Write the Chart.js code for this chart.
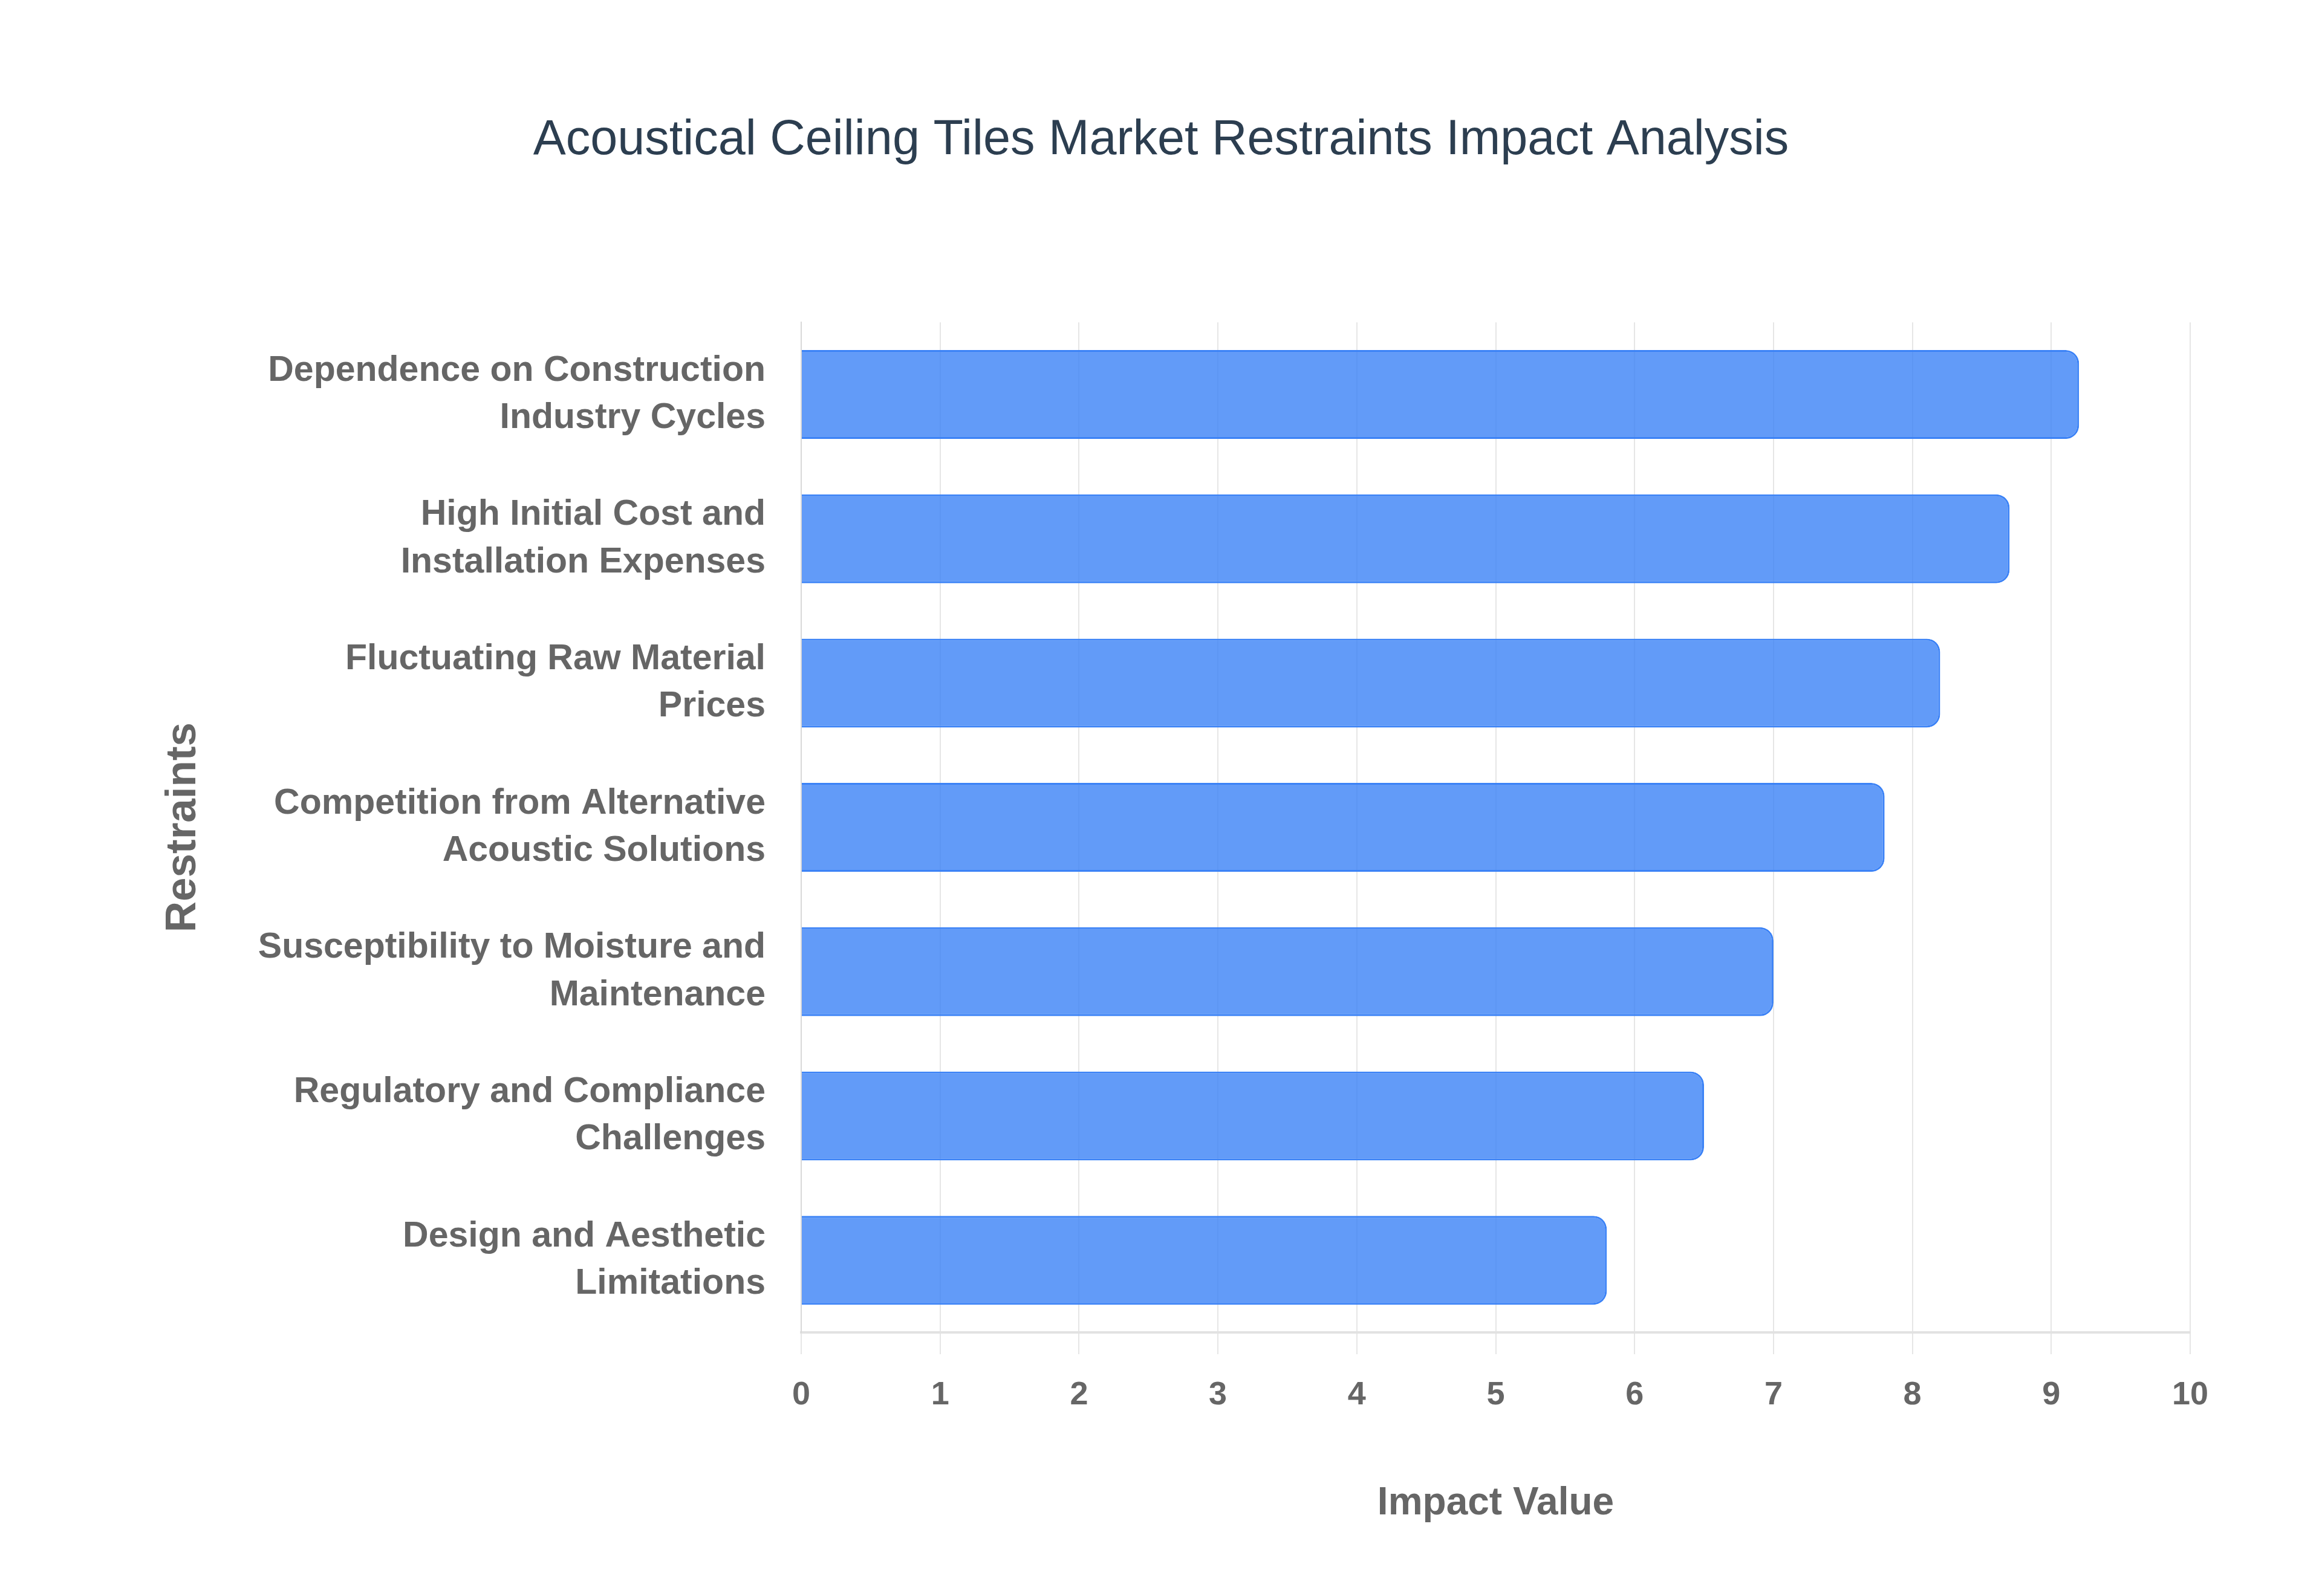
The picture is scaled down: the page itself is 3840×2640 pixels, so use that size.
<!DOCTYPE html>
<html>
<head>
<meta charset="utf-8">
<title>Acoustical Ceiling Tiles Market Restraints Impact Analysis</title>
<script src="https://cdn.jsdelivr.net/npm/chart.js@4.4.1/dist/chart.umd.min.js"></script>
<style>
  html, body { margin: 0; padding: 0; background: #ffffff; }
  #wrap { width: 3840px; height: 2640px; position: relative; }
</style>
</head>
<body>
<div id="wrap"><canvas id="restraintsChart"></canvas></div>
<script>
// Restraint names (wrapped onto two lines like the original)
const RESTRAINTS = [
  ['Dependence on Construction', 'Industry Cycles'],
  ['High Initial Cost and', 'Installation Expenses'],
  ['Fluctuating Raw Material', 'Prices'],
  ['Competition from Alternative', 'Acoustic Solutions'],
  ['Susceptibility to Moisture and', 'Maintenance'],
  ['Regulatory and Compliance', 'Challenges'],
  ['Design and Aesthetic', 'Limitations']
];

// Impact score for each restraint
const IMPACT_VALUES = [9.2, 8.7, 8.2, 7.8, 7.0, 6.5, 5.8];

// Impact axis range
const X_MIN = 0;
const X_MAX = 10;
const X_STEP = 1;

const LABEL_FONT = "'Liberation Sans', Arial, Helvetica, sans-serif";

/**
 * Build the horizontal bar chart
 */
function buildChart() {
  const ctx = document.getElementById('restraintsChart').getContext('2d');

  new Chart(ctx, {
    type: 'bar',
    data: {
      labels: RESTRAINTS,
      datasets: [{
        label: 'Impact Value',
        data: IMPACT_VALUES,
        backgroundColor: 'rgba(59, 130, 246, 0.8)',
        borderColor: '#3B82F6',
        borderWidth: 3,
        borderRadius: 22,
        borderSkipped: 'start',
        barPercentage: 0.77,
        categoryPercentage: 0.8
      }]
    },
    options: {
      indexAxis: 'y',
      responsive: true,
      maintainAspectRatio: false,
      devicePixelRatio: 1,
      animation: false,
      layout: {
        padding: 0
      },
      plugins: {
        legend: { display: false },
        tooltip: { enabled: false },
        title: {
          display: true,
          text: 'Acoustical Ceiling Tiles Market Restraints Impact Analysis',
          color: '#2c3e50',
          font: { family: LABEL_FONT, size: 81, weight: 'normal' },
          padding: { top: 184, bottom: 252 }
        }
      },
      scales: {
        x: {
          min: X_MIN,
          max: X_MAX,
          ticks: {
            stepSize: X_STEP,
            color: '#666666',
            padding: 36,
            font: { family: LABEL_FONT, size: 54, weight: 'bold' }
          },
          grid: {
            color: '#e6e6e6',
            lineWidth: 2,
            tickLength: 36
          },
          border: { color: '#e2e2e2', width: 4 },
          title: {
            display: true,
            text: 'Impact Value',
            color: '#666666',
            font: { family: LABEL_FONT, size: 64, weight: 'bold' },
            padding: { top: 0, bottom: 114 }
          },
          afterFit: scale => { scale.height = 436; }
        },
        y: {
          ticks: {
            color: '#666666',
            padding: 51,
            font: { family: LABEL_FONT, size: 59, weight: 'bold', lineHeight: 1.33 }
          },
          grid: { display: false },
          border: { color: '#d9d9d9', width: 2 },
          title: {
            display: true,
            text: 'Restraints',
            color: '#666666',
            font: { family: LABEL_FONT, size: 71, weight: 'bold' },
            padding: { top: 261, bottom: 0 }
          },
          afterFit: scale => { scale.width = 1325; }
        },
        // empty right-hand margin so the title stays centred on the page
        yRight: {
          type: 'category',
          position: 'right',
          grid: { display: false },
          border: { display: false },
          ticks: { display: false },
          afterFit: scale => { scale.width = 218; }
        }
      }
    }
  });
}

document.addEventListener('DOMContentLoaded', buildChart);
</script>
</body>
</html>
